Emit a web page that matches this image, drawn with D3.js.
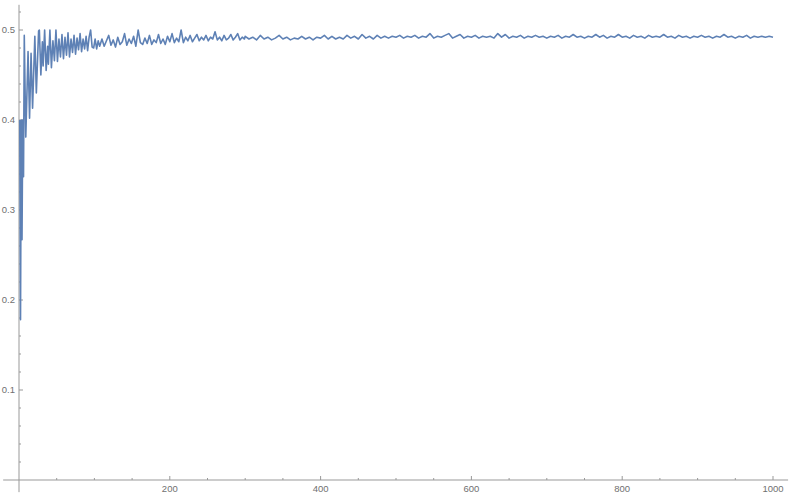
<!DOCTYPE html>
<html>
<head>
<meta charset="utf-8">
<script src="https://cdn.jsdelivr.net/npm/d3@7"></script>
<style>
  body { margin: 0; background: #fff; }
  text { font-family: "Liberation Sans", Arial, sans-serif; font-size: 9.5px; fill: #707070; }
</style>
</head>
<body>
<svg width="800" height="498"></svg>
<script>
// first part of the series, read point by point
var earlyX = [1, 2, 3, 4, 5, 6, 7, 9, 12, 14, 16, 18, 21, 23, 26, 27, 29, 31, 32, 34, 36, 38, 39, 41, 43, 45, 47, 49, 51, 53, 55, 57, 59, 61, 63, 65, 67, 69, 71, 73, 75, 77, 79, 81, 83, 85, 87, 89, 91, 93, 95, 97, 99, 101, 103, 105, 107];
var earlyY = [0.40, 0.178, 0.40, 0.267, 0.40, 0.337, 0.494, 0.381, 0.476, 0.402, 0.474, 0.413, 0.493, 0.430, 0.499, 0.500, 0.450, 0.487, 0.460, 0.500, 0.455, 0.482, 0.462, 0.500, 0.458, 0.488, 0.466, 0.500, 0.465, 0.490, 0.470, 0.495, 0.468, 0.492, 0.472, 0.497, 0.470, 0.490, 0.475, 0.494, 0.473, 0.491, 0.478, 0.496, 0.476, 0.490, 0.479, 0.493, 0.477, 0.492, 0.500, 0.481, 0.480, 0.490, 0.479, 0.488, 0.482];

// middle part, one reading every 3 steps from 110 to 299
var midStart = 110, midStep = 3;
var midY = [
  0.490, 0.482, 0.488, 0.494, 0.483, 0.489, 0.481, 0.492, 0.484, 0.487,
  0.496, 0.483, 0.490, 0.485, 0.493, 0.482, 0.500, 0.486, 0.484, 0.491,
  0.485, 0.494, 0.484, 0.489, 0.486, 0.495, 0.485, 0.490, 0.484, 0.493,
  0.487, 0.496, 0.486, 0.491, 0.487, 0.500, 0.486, 0.492, 0.488, 0.494,
  0.487, 0.491, 0.495, 0.488, 0.492, 0.489, 0.494, 0.488, 0.492, 0.490,
  0.498, 0.489, 0.492, 0.488, 0.494, 0.489, 0.491, 0.495, 0.489, 0.492,
  0.496, 0.489, 0.492, 0.490
];

// rest of the series, one reading every 5 steps from 300 to 1000
var tailStart = 300, tailStep = 5;
var tailY = [
  0.493, 0.490, 0.492, 0.489, 0.494, 0.490, 0.492,
  0.489, 0.491, 0.494, 0.490, 0.492, 0.489, 0.491, 0.490, 0.493, 0.490,
  0.492, 0.489, 0.492, 0.491, 0.494, 0.490, 0.493, 0.490, 0.492, 0.490,
  0.494, 0.491, 0.493, 0.490, 0.495, 0.491, 0.493, 0.490, 0.494, 0.491,
  0.493, 0.491, 0.493, 0.492, 0.494, 0.491, 0.493, 0.492, 0.494, 0.491,
  0.493, 0.492, 0.496, 0.491, 0.493, 0.492, 0.494, 0.496, 0.491, 0.493,
  0.495, 0.491, 0.493, 0.492, 0.494, 0.491, 0.493, 0.492, 0.493, 0.491,
  0.496, 0.492, 0.495, 0.491, 0.493, 0.492, 0.494, 0.491, 0.493, 0.492,
  0.494, 0.492, 0.493, 0.491, 0.493, 0.492, 0.494, 0.491, 0.493, 0.492,
  0.495, 0.492, 0.493, 0.491, 0.493, 0.492, 0.495, 0.492, 0.494, 0.491,
  0.493, 0.492, 0.495, 0.492, 0.493, 0.491, 0.494, 0.492, 0.493, 0.491,
  0.494, 0.492, 0.493, 0.492, 0.495, 0.492, 0.493, 0.491, 0.494, 0.492,
  0.493, 0.491, 0.493, 0.492, 0.494, 0.492, 0.493, 0.491, 0.493, 0.492,
  0.495, 0.492, 0.493, 0.491, 0.493, 0.492, 0.494, 0.491, 0.493, 0.492,
  0.493, 0.492, 0.493, 0.492
];

var xTicks = [200, 400, 600, 800, 1000];
var yTicks = [0.1, 0.2, 0.3, 0.4, 0.5];

var data = earlyX.map(function(x, i) { return {x: x, y: earlyY[i]}; });
midY.forEach(function(v, i) { data.push({x: midStart + i * midStep, y: v}); });
tailY.forEach(function(v, i) { data.push({x: tailStart + i * tailStep, y: v}); });

var svg = d3.select("svg");
var x = d3.scaleLinear().domain([0, 1000]).range([19, 773]);
var y = d3.scaleLinear().domain([0, 0.5]).range([480, 30]);

var axisColor = "#999";

// x axis line, a bit longer than the data range
svg.append("line")
  .attr("x1", x(-21)).attr("x2", x(1020))
  .attr("y1", y(0)).attr("y2", y(0))
  .attr("stroke", axisColor).attr("stroke-width", 1);

// y axis line
svg.append("line")
  .attr("x1", x(0)).attr("x2", x(0))
  .attr("y1", y(-0.0135)).attr("y2", y(0.528))
  .attr("stroke", axisColor).attr("stroke-width", 1);

// x ticks: minor every 50, major every 200
svg.append("g").selectAll("line")
  .data(d3.range(50, 1001, 50))
  .enter().append("line")
  .attr("x1", function(d) { return x(d); })
  .attr("x2", function(d) { return x(d); })
  .attr("y1", y(0))
  .attr("y2", function(d) { return y(0) - (d % 200 === 0 ? 4 : 2); })
  .attr("stroke", axisColor);

svg.append("g").selectAll("text")
  .data(xTicks)
  .enter().append("text")
  .attr("x", function(d) { return x(d); })
  .attr("y", y(0) + 12)
  .attr("text-anchor", "middle")
  .text(function(d) { return d; });

// y ticks: minor every 0.02, major every 0.1
svg.append("g").selectAll("line")
  .data(d3.range(1, 27).map(function(i) { return i * 0.02; }))
  .enter().append("line")
  .attr("x1", x(0))
  .attr("x2", function(d, i) { return x(0) + ((i + 1) % 5 === 0 ? 4 : 2); })
  .attr("y1", function(d) { return y(d); })
  .attr("y2", function(d) { return y(d); })
  .attr("stroke", axisColor);

svg.append("g").selectAll("text")
  .data(yTicks)
  .enter().append("text")
  .attr("x", x(0) - 4)
  .attr("y", function(d) { return y(d); })
  .attr("dy", "0.35em")
  .attr("text-anchor", "end")
  .text(function(d) { return d3.format(".1f")(d); });

var line = d3.line()
  .x(function(d) { return x(d.x); })
  .y(function(d) { return y(d.y); });

svg.append("path")
  .datum(data)
  .attr("d", line)
  .attr("fill", "none")
  .attr("stroke", "#5E81B5")
  .attr("stroke-width", 1.6)
  .attr("stroke-linejoin", "round");
</script>
</body>
</html>
